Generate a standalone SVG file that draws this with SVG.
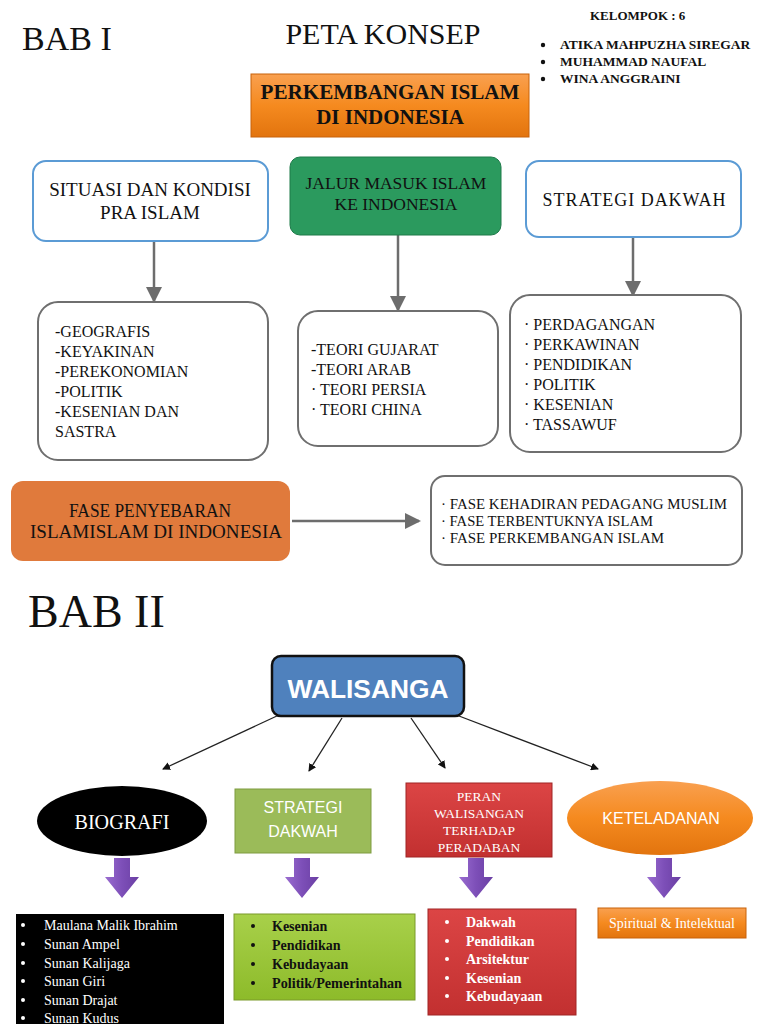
<svg xmlns="http://www.w3.org/2000/svg" width="768" height="1024" viewBox="0 0 768 1024">
<defs>
<style>
.serif{font-family:"Liberation Serif","Times New Roman",serif;fill:#111}
.sans{font-family:"Liberation Sans",Arial,sans-serif}
.b{font-weight:bold}
.wbox{fill:#fff;stroke:#5B9BD5;stroke-width:2}
.gbox{fill:#fff;stroke:#6f6f6f;stroke-width:2}
.conn{stroke:#6d6d6d;stroke-width:2.5;fill:none}
.thin{stroke:#222;stroke-width:1.3;fill:none}
.w{fill:#fff}
</style>
<marker id="ga" markerWidth="16" markerHeight="16" refX="14" refY="8" orient="auto" markerUnits="userSpaceOnUse" viewBox="0 0 16 16">
<path d="M0,0 L16,8 L0,16 z" fill="#6d6d6d"/>
</marker>
<marker id="ka" markerWidth="8" markerHeight="8" refX="7" refY="4" orient="auto" markerUnits="userSpaceOnUse" viewBox="0 0 8 8">
<path d="M0,0 L8,4 L0,8 z" fill="#111"/>
</marker>
<linearGradient id="og" x1="0" y1="0" x2="0" y2="1">
<stop offset="0" stop-color="#F9A050"/><stop offset="0.5" stop-color="#F58A1F"/><stop offset="1" stop-color="#E2740E"/>
</linearGradient>
<linearGradient id="pg" x1="0" y1="0" x2="1" y2="0">
<stop offset="0" stop-color="#9A6DD0"/><stop offset="0.5" stop-color="#7D4FB8"/><stop offset="1" stop-color="#6A3FA3"/>
</linearGradient>
<linearGradient id="rg" x1="0" y1="0" x2="0" y2="1">
<stop offset="0" stop-color="#DC4545"/><stop offset="1" stop-color="#C23030"/>
</linearGradient>
<linearGradient id="lg" x1="0" y1="0" x2="0" y2="1">
<stop offset="0" stop-color="#A8D04A"/><stop offset="1" stop-color="#8DBB2A"/>
</linearGradient>
<path id="parrow" d="M-8,0 L8,0 L8,19 L17,19 L0,40 L-17,19 L-8,19 z" fill="url(#pg)"/>
</defs>
<rect width="768" height="1024" fill="#fff"/>

<!-- headers -->
<text class="serif" x="22" y="50" font-size="34">BAB I</text>
<text class="serif" x="383" y="44" font-size="30" text-anchor="middle">PETA KONSEP</text>
<text class="serif b" x="590" y="20" font-size="13">KELOMPOK : 6</text>
<g class="serif b" font-size="13.5">
<circle cx="543" cy="45" r="2.2" fill="#111"/><text x="560" y="49">ATIKA MAHPUZHA SIREGAR</text>
<circle cx="543" cy="62" r="2.2" fill="#111"/><text x="560" y="66">MUHAMMAD NAUFAL</text>
<circle cx="543" cy="79" r="2.2" fill="#111"/><text x="560" y="83">WINA ANGGRAINI</text>
</g>
<text class="serif" x="28" y="627" font-size="46">BAB II</text>

<!-- connectors -->
<g id="connectors">
<line class="conn" x1="154" y1="241" x2="154" y2="301" marker-end="url(#ga)"/>
<line class="conn" x1="398" y1="235" x2="398" y2="310" marker-end="url(#ga)"/>
<line class="conn" x1="633" y1="237" x2="633" y2="295" marker-end="url(#ga)"/>
<line class="conn" x1="292" y1="521" x2="419" y2="521" marker-end="url(#ga)"/>
<line class="thin" x1="279" y1="715" x2="163" y2="769" marker-end="url(#ka)"/>
<line class="thin" x1="342" y1="718" x2="309" y2="771" marker-end="url(#ka)"/>
<line class="thin" x1="411" y1="718" x2="445" y2="768" marker-end="url(#ka)"/>
<line class="thin" x1="459" y1="716" x2="598" y2="769" marker-end="url(#ka)"/>
<use href="#parrow" x="122" y="858"/>
<use href="#parrow" x="302" y="858"/>
<use href="#parrow" x="476" y="858"/>
<use href="#parrow" x="664" y="858"/>
</g>

<!-- BAB I nodes -->
<g id="n-title">
<rect x="251" y="74" width="278" height="63" fill="url(#og)" stroke="#C8620A" stroke-width="1"/>
<text class="serif b" x="390" y="99" font-size="21" text-anchor="middle" textLength="259" lengthAdjust="spacingAndGlyphs">PERKEMBANGAN ISLAM</text>
<text class="serif b" x="390" y="124" font-size="21" text-anchor="middle">DI INDONESIA</text>
</g>
<g id="n-situasi">
<rect class="wbox" x="33" y="161" width="235" height="80" rx="13"/>
<text class="serif" x="150" y="196" font-size="19" text-anchor="middle">SITUASI DAN KONDISI</text>
<text class="serif" x="150" y="219" font-size="19" text-anchor="middle">PRA ISLAM</text>
</g>
<g id="n-jalur">
<rect x="290" y="157" width="211" height="78" rx="10" fill="#2B9A5E" stroke="#1E7A49" stroke-width="1"/>
<text class="serif" x="396" y="189" font-size="17.5" text-anchor="middle">JALUR MASUK ISLAM</text>
<text class="serif" x="396" y="210" font-size="17.5" text-anchor="middle">KE INDONESIA</text>
</g>
<g id="n-strategi">
<rect class="wbox" x="526" y="161" width="215" height="76" rx="13"/>
<text class="serif" x="634" y="206" font-size="18" text-anchor="middle" textLength="183" lengthAdjust="spacing">STRATEGI DAKWAH</text>
</g>
<g id="n-list1">
<rect class="gbox" x="38" y="302" width="230" height="158" rx="20"/>
<g class="serif" font-size="16">
<text x="55" y="337">-GEOGRAFIS</text>
<text x="55" y="357">-KEYAKINAN</text>
<text x="55" y="377">-PEREKONOMIAN</text>
<text x="55" y="397">-POLITIK</text>
<text x="55" y="417">-KESENIAN DAN</text>
<text x="55" y="437">SASTRA</text>
</g>
</g>
<g id="n-list2">
<rect class="gbox" x="298" y="311" width="200" height="135" rx="20"/>
<g class="serif" font-size="16">
<text x="311" y="355">-TEORI GUJARAT</text>
<text x="311" y="375">-TEORI ARAB</text>
<text x="311" y="395">· TEORI PERSIA</text>
<text x="311" y="415">· TEORI CHINA</text>
</g>
</g>
<g id="n-list3">
<rect class="gbox" x="510" y="295" width="231" height="157" rx="20"/>
<g class="serif" font-size="16">
<text x="524" y="330">· PERDAGANGAN</text>
<text x="524" y="350">· PERKAWINAN</text>
<text x="524" y="370">· PENDIDIKAN</text>
<text x="524" y="390">· POLITIK</text>
<text x="524" y="410">· KESENIAN</text>
<text x="524" y="430">· TASSAWUF</text>
</g>
</g>
<g id="n-fase">
<rect x="11" y="481" width="279" height="80" rx="12" fill="#E07A3C"/>
<text class="serif" x="150" y="517" font-size="18" text-anchor="middle" textLength="162" lengthAdjust="spacingAndGlyphs">FASE PENYEBARAN</text>
<text class="serif" x="156" y="538" font-size="18" text-anchor="middle" textLength="252" lengthAdjust="spacingAndGlyphs">ISLAMISLAM DI INDONESIA</text>
</g>
<g id="n-faselist">
<rect class="gbox" x="431" y="476" width="311" height="89" rx="14"/>
<g class="serif" font-size="14">
<text x="441" y="509" textLength="286" lengthAdjust="spacingAndGlyphs">· FASE KEHADIRAN PEDAGANG MUSLIM</text>
<text x="441" y="526" textLength="212" lengthAdjust="spacingAndGlyphs">· FASE TERBENTUKNYA ISLAM</text>
<text x="441" y="543" textLength="223" lengthAdjust="spacingAndGlyphs">· FASE PERKEMBANGAN ISLAM</text>
</g>
</g>

<!-- BAB II nodes -->
<g id="n-walisanga">
<rect x="272" y="656" width="192" height="60" rx="9" fill="#4F81BD" stroke="#111" stroke-width="2.5"/>
<text class="sans b w" x="368" y="698" font-size="25" text-anchor="middle" textLength="161" lengthAdjust="spacingAndGlyphs">WALISANGA</text>
</g>
<g id="n-biografi">
<ellipse cx="122" cy="821" rx="85" ry="35" fill="#000"/>
<text class="w" x="122" y="829" font-size="20" text-anchor="middle" font-family="Liberation Serif, serif" textLength="95" lengthAdjust="spacingAndGlyphs">BIOGRAFI</text>
</g>
<g id="n-strategi2">
<rect x="235" y="789" width="136" height="64" fill="#9BBB59" stroke="#7E9B40" stroke-width="1"/>
<text class="sans w" x="303" y="813" font-size="16" text-anchor="middle">STRATEGI</text>
<text class="sans w" x="303" y="837" font-size="16" text-anchor="middle">DAKWAH</text>
</g>
<g id="n-peran">
<rect x="406" y="783" width="146" height="74" fill="url(#rg)" stroke="#A02525" stroke-width="1"/>
<g class="w" font-size="13.5" text-anchor="middle" font-family="Liberation Serif, serif">
<text x="479" y="801">PERAN</text>
<text x="479" y="818">WALISANGAN</text>
<text x="479" y="835">TERHADAP</text>
<text x="479" y="852">PERADABAN</text>
</g>
</g>
<g id="n-keteladanan">
<ellipse cx="660" cy="818" rx="93" ry="37" fill="url(#og)"/>
<text class="sans w" x="661" y="824" font-size="16" text-anchor="middle">KETELADANAN</text>
</g>
<g id="n-biolist">
<rect x="16" y="914" width="208" height="120" fill="#000"/>
<g class="w" font-size="14" font-family="Liberation Serif, serif">
<circle cx="23" cy="925" r="2" fill="#fff"/><text x="44" y="930">Maulana Malik Ibrahim</text>
<circle cx="23" cy="944" r="2" fill="#fff"/><text x="44" y="949">Sunan Ampel</text>
<circle cx="23" cy="963" r="2" fill="#fff"/><text x="44" y="968">Sunan Kalijaga</text>
<circle cx="23" cy="981" r="2" fill="#fff"/><text x="44" y="986">Sunan Giri</text>
<circle cx="23" cy="1000" r="2" fill="#fff"/><text x="44" y="1005">Sunan Drajat</text>
<circle cx="23" cy="1018" r="2" fill="#fff"/><text x="44" y="1023">Sunan Kudus</text>
</g>
</g>
<g id="n-strategilist">
<rect x="234" y="914" width="181" height="86" fill="url(#lg)" stroke="#7A9A2A" stroke-width="1"/>
<g class="serif b" font-size="14">
<circle cx="253" cy="926" r="2" fill="#111"/><text x="272" y="931">Kesenian</text>
<circle cx="253" cy="945" r="2" fill="#111"/><text x="272" y="950">Pendidikan</text>
<circle cx="253" cy="964" r="2" fill="#111"/><text x="272" y="969">Kebudayaan</text>
<circle cx="253" cy="983" r="2" fill="#111"/><text x="272" y="988" textLength="130" lengthAdjust="spacingAndGlyphs">Politik/Pemerintahan</text>
</g>
</g>
<g id="n-peranlist">
<rect x="428" y="909" width="148" height="106" fill="url(#rg)" stroke="#A02525" stroke-width="1"/>
<g class="b w" font-size="14" font-family="Liberation Serif, serif">
<circle cx="447" cy="922" r="2" fill="#fff"/><text x="466" y="927">Dakwah</text>
<circle cx="447" cy="941" r="2" fill="#fff"/><text x="466" y="946">Pendidikan</text>
<circle cx="447" cy="959" r="2" fill="#fff"/><text x="466" y="964">Arsitektur</text>
<circle cx="447" cy="978" r="2" fill="#fff"/><text x="466" y="983">Kesenian</text>
<circle cx="447" cy="996" r="2" fill="#fff"/><text x="466" y="1001">Kebudayaan</text>
</g>
</g>
<g id="n-spiritual">
<rect x="598" y="908" width="148" height="30" fill="url(#og)" stroke="#C8620A" stroke-width="1"/>
<text class="w" x="672" y="928" font-size="14" text-anchor="middle" font-family="Liberation Serif, serif">Spiritual &amp; Intelektual</text>
</g>
</svg>
